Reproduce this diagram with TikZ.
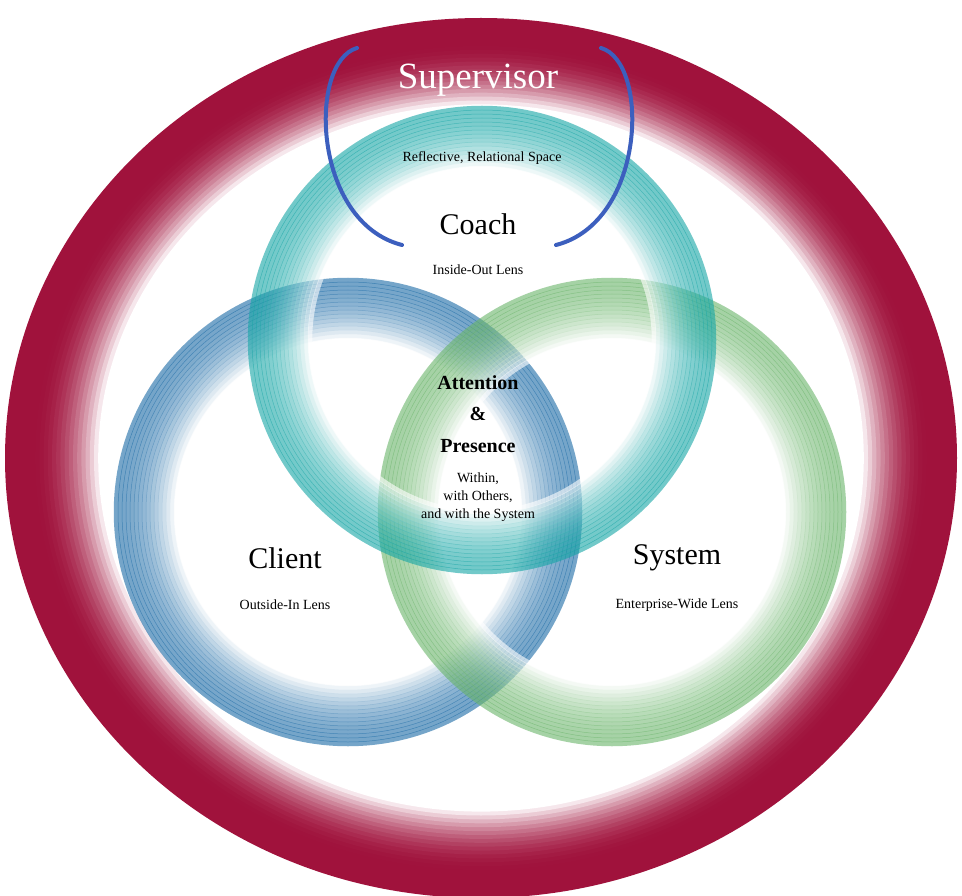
\documentclass[tikz,border=0pt]{standalone}
\usepackage{fontspec}
\setmainfont{Liberation Serif}
\definecolor{crim}{RGB}{160,18,60}
\definecolor{cteal}{RGB}{20,165,165}
\definecolor{cblue}{RGB}{25,105,165}
\definecolor{cgreen}{RGB}{105,180,105}
\definecolor{brk}{RGB}{60,95,190}
\begin{document}
\begin{tikzpicture}[x=1pt,y=-1pt,
  big/.style={font=\fontsize{30}{32}\selectfont},
  small/.style={font=\fontsize{14}{16}\selectfont},
  bold/.style={font=\fontsize{20}{22}\selectfont\bfseries},
  ring/.style={line width=4.5pt, draw opacity=0.6}]
\useasboundingbox (0,0) rectangle (962,896);
\fill[white] (0,0) rectangle (962,896);
% outer ellipse rings
\fill[crim] (481,458) ellipse [x radius=476, y radius=440];
\foreach \k in {0,...,28} {
  \pgfmathsetmacro{\p}{max(0,100-\k*\k*0.4)}
  \fill[crim!\p!white] (481,458) ellipse [x radius={450-\k*4.2}, y radius={416-\k*3.9}];
}
% circles
\foreach \cx/\cy/\col in {348/512/cblue, 612/512/cgreen, 482/340/cteal} {
  \foreach \k in {0,...,15} {
    \pgfmathsetmacro{\p}{max(0,100-\k*\k*0.45)}
    \draw[ring, \col!\p!white] (\cx,\cy) circle ({232-\k*4});
  }
}
\draw[brk, line width=4pt, line cap=round] (402,245) .. controls (312,222) and (308,62) .. (357,48);
\draw[brk, line width=4pt, line cap=round] (556,245) .. controls (646,222) and (650,62) .. (601,48);
\node[white, font=\fontsize{37}{40}\selectfont] (sup) at (478,80) {Supervisor};
\node[small] (refl) at (482,158) {Reflective, Relational Space};
\node[big] (coach) at (478,224) {Coach};
\node[small] (iol) at (478,270) {Inside-Out Lens};
\node[bold] (att) at (478,383) {Attention};
\node[bold] (amp) at (478,414) {\&};
\node[bold] (pres) at (478,446) {Presence};
\node[small, align=center] (with) at (478,497) {Within,\\[2pt] with Others,\\[2pt] and with the System};
\node[big] (client) at (285,558) {Client};
\node[small] (oil) at (285,605) {Outside-In Lens};
\node[big] (sys) at (677,558) {System};
\node[small] (ewl) at (677,605) {Enterprise-Wide Lens};
\end{tikzpicture}
\end{document}
